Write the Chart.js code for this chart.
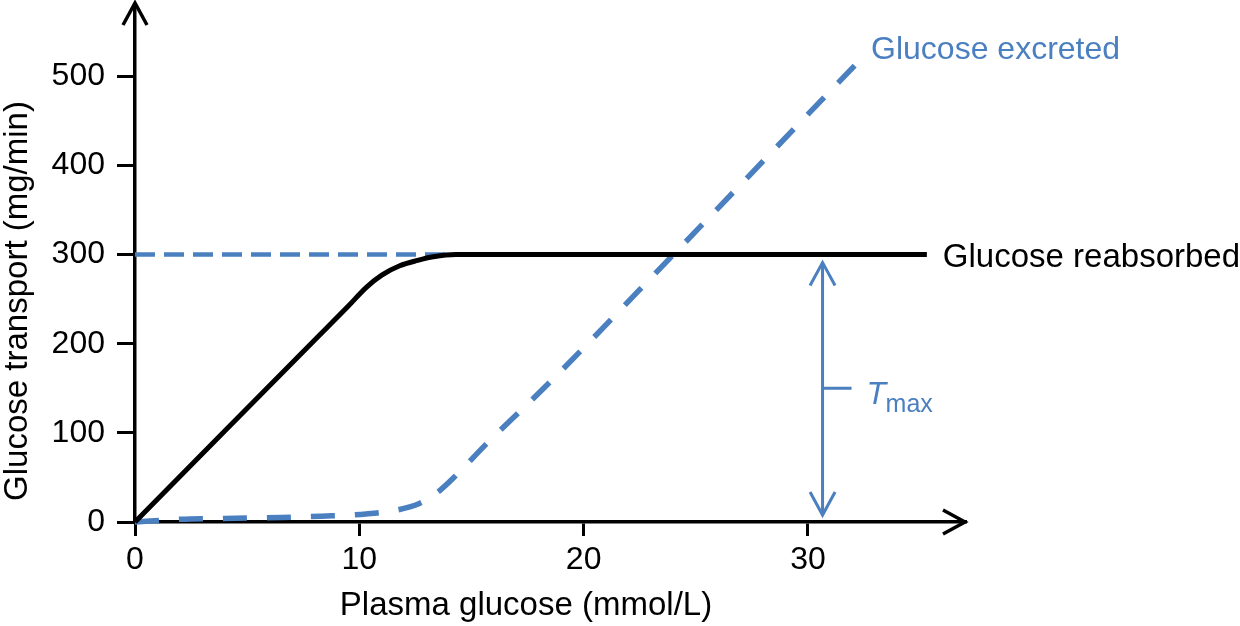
<!DOCTYPE html>
<html>
<head>
<meta charset="utf-8">
<script src="https://cdn.jsdelivr.net/npm/chart.js@4.4.1/dist/chart.umd.min.js"></script>
<style>
    html, body { margin: 0; padding: 0; background: #fff; }
    #wrap { width: 1240px; height: 626px; }
</style>
</head>
<body>
<div id="wrap"><canvas id="glucoseChart"></canvas></div>
<script>
// Values (x: mmol/L, y: mg/min)
const reabsorbedX = [0, 4, 8, 9.5, 10.3, 11, 11.8, 12.6, 13.3, 14.3, 35.3];
const reabsorbedY = [0, 102, 204, 242, 263, 277, 287.5, 293.5, 297.5, 300, 300];

const excretedX = [0, 2, 4, 6.5, 8.3, 10.3, 11.7, 12.7, 13.5, 14.3, 15.6, 18.5, 24, 32.5];
const excretedY = [0, 3, 4, 5, 6.5, 9, 13.5, 21, 33.5, 52, 86, 157, 300, 523];

const filteredX = [0, 14.2];
const filteredY = [300, 300];

const xTicks = [0, 10, 20, 30];
const yTicks = [0, 100, 200, 300, 400, 500];

const tmaxX = 30.65;
const tmaxTop = 300;
const tmaxBottom = 0;

const BLUE = '#4a7fc0';
const FONT = '"Liberation Sans", Arial, Helvetica, sans-serif';

const pts = (xs, ys) => xs.map((x, i) => ({ x: x, y: ys[i] }));

function arrowHead(ctx, x, y, dx, dy, len, half) {
    // open V head, tip at (x,y), pointing along (dx,dy)
    const px = -dy, py = dx;
    ctx.beginPath();
    ctx.moveTo(x - dx * len + px * half, y - dy * len + py * half);
    ctx.lineTo(x, y);
    ctx.lineTo(x - dx * len - px * half, y - dy * len - py * half);
    ctx.stroke();
}

function noPadding(s) {
    s.paddingTop = 0;
    s.paddingBottom = 0;
    s.paddingLeft = 0;
    s.paddingRight = 0;
}

const annotations = {
    id: 'annotations',
    afterDraw(chart) {
        const { ctx, chartArea: a, scales: { x, y } } = chart;
        ctx.save();
        ctx.lineJoin = 'miter';
        ctx.lineCap = 'butt';

        // axis arrow heads
        ctx.strokeStyle = '#000';
        ctx.lineWidth = 3.5;
        arrowHead(ctx, a.left, a.top - 2, 0, -1, 22, 12);
        arrowHead(ctx, a.right, a.bottom, 1, 0, 22, 12);

        // Tmax double arrow
        const tx = x.getPixelForValue(tmaxX);
        const t1 = y.getPixelForValue(tmaxTop) + 8;
        const t2 = y.getPixelForValue(tmaxBottom) - 7;
        const tm = y.getPixelForValue((tmaxTop + tmaxBottom) / 2);
        ctx.strokeStyle = BLUE;
        ctx.lineWidth = 3;
        ctx.beginPath();
        ctx.moveTo(tx, t1);
        ctx.lineTo(tx, t2);
        ctx.moveTo(tx, tm);
        ctx.lineTo(tx + 29, tm);
        ctx.stroke();
        arrowHead(ctx, tx, t1, 0, -1, 23, 12.5);
        arrowHead(ctx, tx, t2, 0, 1, 23, 12.5);

        ctx.fillStyle = BLUE;
        ctx.textAlign = 'left';
        ctx.textBaseline = 'alphabetic';
        ctx.font = 'italic 32px ' + FONT;
        ctx.fillText('T', tx + 44, tm + 16);
        ctx.font = '25px ' + FONT;
        ctx.fillText('max', tx + 63, tm + 24);

        // line labels
        const rEnd = reabsorbedX.length - 1;
        ctx.fillStyle = '#000';
        ctx.font = '33px ' + FONT;
        ctx.textBaseline = 'middle';
        ctx.fillText('Glucose reabsorbed',
            x.getPixelForValue(reabsorbedX[rEnd]) + 16,
            y.getPixelForValue(reabsorbedY[rEnd]) + 3);

        const eEnd = excretedX.length - 1;
        ctx.fillStyle = BLUE;
        ctx.font = '32px ' + FONT;
        ctx.fillText('Glucose excreted',
            x.getPixelForValue(excretedX[eEnd]) + 7,
            y.getPixelForValue(excretedY[eEnd]) - 6);

        // axis titles
        ctx.fillStyle = '#000';
        ctx.font = '33px ' + FONT;
        ctx.textAlign = 'center';
        ctx.textBaseline = 'alphabetic';
        ctx.fillText('Plasma glucose (mmol/L)', (a.left + a.right) / 2 - 24, 615);

        ctx.translate(27, 301);
        ctx.rotate(-Math.PI / 2);
        ctx.fillText('Glucose transport (mg/min)', 0, 0);
        ctx.restore();
    }
};

new Chart(document.getElementById('glucoseChart'), {
    type: 'line',
    data: {
        datasets: [
            {
                label: 'Glucose reabsorbed',
                data: pts(reabsorbedX, reabsorbedY),
                borderColor: '#000',
                borderWidth: 5,
                cubicInterpolationMode: 'monotone',
                pointRadius: 0,
                clip: false
            },
            {
                label: 'Filtered load',
                data: pts(filteredX, filteredY),
                borderColor: BLUE,
                borderWidth: 4.5,
                borderDash: [20, 9],
                pointRadius: 0,
                clip: false
            },
            {
                label: 'Glucose excreted',
                data: pts(excretedX, excretedY),
                borderColor: BLUE,
                borderWidth: 5.5,
                borderDash: [24, 20],
                cubicInterpolationMode: 'monotone',
                pointRadius: 0,
                clip: false
            }
        ]
    },
    options: {
        responsive: true,
        maintainAspectRatio: false,
        animation: false,
        layout: { padding: { top: 5, right: 275, left: 0, bottom: 0 } },
        plugins: { legend: { display: false }, tooltip: { enabled: false } },
        scales: {
            x: {
                type: 'linear',
                min: 0,
                max: 37,
                afterBuildTicks: s => { s.ticks = xTicks.map(v => ({ value: v })); },
                afterFit: s => { s.height = 104; noPadding(s); },
                ticks: { color: '#000', padding: 5, font: { family: FONT, size: 32 } },
                grid: { drawOnChartArea: false, drawTicks: true, tickLength: 14, color: '#000', lineWidth: 3 },
                border: { display: true, color: '#000', width: 3.5 }
            },
            y: {
                type: 'linear',
                min: 0,
                max: 580,
                afterBuildTicks: s => { s.ticks = yTicks.map(v => ({ value: v })); },
                afterFit: s => { s.width = 135; noPadding(s); },
                ticks: { color: '#000', padding: 12, font: { family: FONT, size: 32 } },
                grid: { drawOnChartArea: false, drawTicks: true, tickLength: 18, color: '#000', lineWidth: 3 },
                border: { display: true, color: '#000', width: 3.5 }
            }
        }
    },
    plugins: [annotations]
});
</script>
</body>
</html>
